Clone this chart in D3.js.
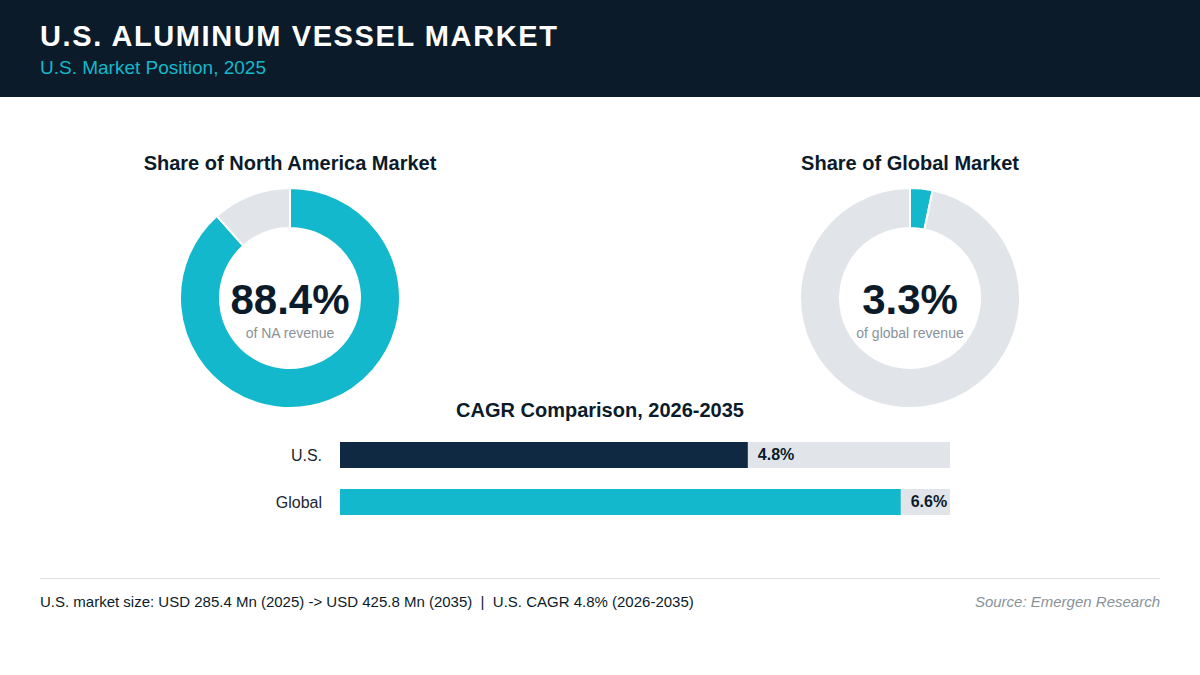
<!DOCTYPE html>
<html lang="en">
<head>
  <meta charset="UTF-8">
  <script src="https://d3js.org/d3.v7.min.js"></script>
  <style>
    body { margin: 0; background: #fff; font-family: "Liberation Sans", Arial, sans-serif; }
  </style>
</head>
<body>
  <svg id="chart"></svg>
  <script>
    const donutTitles = ['Share of North America Market', 'Share of Global Market'];
    const donutValues = [88.4, 3.3];
    const donutCaptions = ['of NA revenue', 'of global revenue'];
    const barCategories = ['U.S.', 'Global'];
    const barValues = [4.8, 6.6];

    const width = 1200, height = 675;
    const teal = '#14b8cc', navy = '#0f2942', grey = '#e1e5e9';
    const svg = d3.select('#chart').attr('width', width).attr('height', height);

    // header
    svg.append('rect').attr('width', width).attr('height', 97).attr('fill', '#0b1b2a');
    svg.append('text').attr('x', 40).attr('y', 46).attr('fill', '#fff')
      .attr('font-size', 29).attr('font-weight', 'bold').attr('letter-spacing', 1.6)
      .text('U.S. ALUMINUM VESSEL MARKET');
    svg.append('text').attr('x', 40).attr('y', 74).attr('fill', teal)
      .attr('font-size', 19).text('U.S. Market Position, 2025');

    // donuts
    const centers = [290, 910];
    const pie = d3.pie().sort(null).value(d => d);
    const arc = d3.arc().innerRadius(70).outerRadius(110);
    donutValues.forEach((v, i) => {
      const g = svg.append('g').attr('transform', `translate(${centers[i]},298)`);
      svg.append('text').attr('x', centers[i]).attr('y', 170).attr('text-anchor', 'middle')
        .attr('font-size', 20).attr('font-weight', 'bold').attr('fill', '#0b1b2a')
        .text(donutTitles[i]);
      g.selectAll('path').data(pie([v, 100 - v])).enter().append('path')
        .attr('d', arc).attr('fill', (d, j) => j === 0 ? teal : grey)
        .attr('stroke', '#fff').attr('stroke-width', 2);
      g.append('text').attr('y', 16).attr('text-anchor', 'middle')
        .attr('font-size', 42).attr('font-weight', 'bold').attr('fill', '#0b1b2a')
        .text(v.toFixed(1) + '%');
      g.append('text').attr('y', 40).attr('text-anchor', 'middle')
        .attr('font-size', 14).attr('fill', '#8a9299').text(donutCaptions[i]);
    });

    // CAGR bars
    svg.append('text').attr('x', 600).attr('y', 417).attr('text-anchor', 'middle')
      .attr('font-size', 20).attr('font-weight', 'bold').attr('fill', '#0b1b2a')
      .text('CAGR Comparison, 2026-2035');
    const x = d3.scaleLinear().domain([0, 7.18]).range([340, 950]);
    const y = d3.scaleBand().domain(barCategories).range([442, 515]).paddingInner(0.447);
    barCategories.forEach((c, i) => {
      svg.append('rect').attr('x', x(0)).attr('y', y(c)).attr('width', x(7.18) - x(0))
        .attr('height', y.bandwidth()).attr('fill', grey);
      svg.append('rect').attr('x', x(0)).attr('y', y(c)).attr('width', x(barValues[i]) - x(0))
        .attr('height', y.bandwidth()).attr('fill', i === 0 ? navy : teal);
      svg.append('text').attr('x', x(barValues[i]) + 10).attr('y', y(c) + y.bandwidth() / 2 + 5)
        .attr('font-size', 16).attr('font-weight', 'bold').attr('fill', '#0b1b2a')
        .text(barValues[i].toFixed(1) + '%');
      svg.append('text').attr('x', 322).attr('y', y(c) + y.bandwidth() / 2 + 6)
        .attr('text-anchor', 'end').attr('font-size', 16).attr('fill', '#1a2530').text(c);
    });

    // footer
    svg.append('line').attr('x1', 40).attr('x2', 1160).attr('y1', 578.5).attr('y2', 578.5)
      .attr('stroke', '#dde1e5');
    svg.append('text').attr('x', 40).attr('y', 607).attr('font-size', 15).attr('fill', '#0b1b2a')
      .style('white-space', 'pre')
      .text('U.S. market size: USD 285.4 Mn (2025) -> USD 425.8 Mn (2035)  |  U.S. CAGR 4.8% (2026-2035)');
    svg.append('text').attr('x', 1160).attr('y', 607).attr('text-anchor', 'end')
      .attr('font-size', 15).attr('font-style', 'italic').attr('fill', '#8a9299')
      .text('Source: Emergen Research');
  </script>
</body>
</html>
